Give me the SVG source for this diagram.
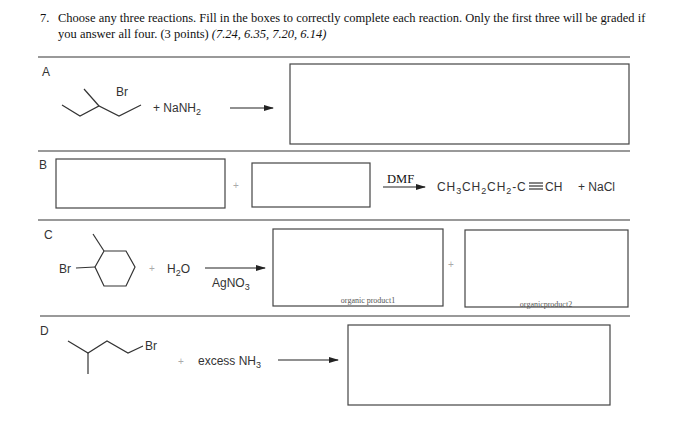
<svg xmlns="http://www.w3.org/2000/svg" width="700" height="427" viewBox="0 0 700 427">
<style>
.t{font-family:"Liberation Serif",serif;font-size:12.5px;fill:#111}
.s{font-family:"Liberation Sans",Arial,sans-serif;font-size:12px;fill:#333}
.b{fill:none;stroke:#444;stroke-width:1.2}
.m{fill:none;stroke:#333;stroke-width:1.2}
.sep{stroke:#777;stroke-width:1.5}
.sm{font-family:"Liberation Serif",serif;font-size:8px;fill:#555}
.p{font-family:"Liberation Sans",sans-serif;font-size:10px;fill:#aaa}
</style>
<defs><marker id="ah" markerWidth="10" markerHeight="6" refX="9" refY="3" orient="auto" markerUnits="userSpaceOnUse"><path d="M0,0L10,3L0,6z" fill="#222"/></marker></defs>
<rect width="700" height="427" fill="#fff"/>
<text class="t" x="40" y="22">7.  <tspan x="58">Choose any three reactions. Fill in the boxes to correctly complete each reaction. Only the first three will be graded if</tspan></text>
<text class="t" x="58" y="38">you answer all four.  (3 points) <tspan font-style="italic">(7.24, 6.35, 7.20, 6.14)</tspan></text>
<g id="separators">
<line class="sep" x1="38" y1="57" x2="630" y2="57"/>
<line class="sep" x1="38" y1="151" x2="630" y2="151"/>
<line class="sep" x1="38" y1="220" x2="630" y2="220"/>
<line class="sep" x1="40" y1="316" x2="630" y2="316"/>
</g>
<g id="A">
<text class="s" x="42" y="76">A</text>
<polyline class="m" points="62,105 80,116 99,106 119,116 141,105"/>
<line class="m" x1="84" y1="89" x2="99" y2="106"/>
<text class="s" x="116" y="96" font-size="11">Br</text>
<text class="s" x="153" y="112" font-size="13">+ NaNH<tspan font-size="9" dy="3">2</tspan></text>
<rect class="b" x="290" y="64" width="339" height="80"/>
</g>
<g id="B">
<text class="s" x="39" y="169">B</text>
<rect class="b" x="56" y="159" width="169" height="49"/>
<text class="p" x="233" y="189">+</text>
<rect class="b" x="252" y="163" width="118" height="44"/>
<text class="t" x="387" y="183" font-size="12">DMF</text>
<text class="s" x="437" y="191" font-size="13" letter-spacing="0.9">CH<tspan font-size="9" dy="3">3</tspan><tspan dy="-3">CH</tspan><tspan font-size="9" dy="3">2</tspan><tspan dy="-3">CH</tspan><tspan font-size="9" dy="3">2</tspan><tspan dy="-3">-C</tspan></text>
<g class="m" stroke-width="1"><line x1="529" y1="183" x2="543" y2="183"/><line x1="529" y1="186" x2="543" y2="186"/><line x1="529" y1="189" x2="543" y2="189"/></g>
<text class="s" x="545" y="191" font-size="13">CH</text>
<text class="s" x="578" y="191" font-size="13">+ NaCl</text>
</g>
<g id="C">
<text class="s" x="44" y="239">C</text>
<polygon class="m" points="104,251 126,251 135,267 126,286 104,286 95,267"/>
<line class="m" x1="93" y1="234" x2="104" y2="251"/>
<line class="m" x1="76" y1="268" x2="95" y2="267"/>
<text class="s" x="59" y="273" font-size="11">Br</text>
<text class="p" x="149" y="272">+</text>
<text class="s" x="167" y="273" font-size="13">H<tspan font-size="9" dy="3">2</tspan><tspan dy="-3">O</tspan></text>
<text class="s" x="212" y="287" font-size="13">AgNO<tspan font-size="9" dy="3">3</tspan></text>
<rect class="b" x="273" y="229" width="170" height="77"/>
<text class="sm" x="368" y="303" text-anchor="middle">organic product1</text>
<text class="p" x="448" y="268">+</text>
<rect class="b" x="465" y="230" width="163" height="77"/>
<text class="sm" x="546" y="307" text-anchor="middle">organicproduct2</text>
</g>
<g id="D">
<text class="s" x="40" y="335">D</text>
<polyline class="m" points="68,341 88,353 107,341 128,353 143,346"/>
<line class="m" x1="88" y1="353" x2="88" y2="374"/>
<text class="s" x="145" y="350" font-size="11">Br</text>
<text class="p" x="178" y="365">+</text>
<text class="s" x="198" y="365" font-size="13">excess NH<tspan font-size="9" dy="3">3</tspan></text>
<rect class="b" x="348" y="325" width="262" height="80"/>
</g>
<g id="connectors" stroke="#222" stroke-width="1.2">
<line x1="230" y1="108" x2="273" y2="108" marker-end="url(#ah)"/>
<line x1="383" y1="187" x2="425" y2="187" marker-end="url(#ah)"/>
<line x1="205" y1="268" x2="265" y2="268" marker-end="url(#ah)"/>
<line x1="278" y1="360" x2="338" y2="360" marker-end="url(#ah)"/>
</g>
</svg>
